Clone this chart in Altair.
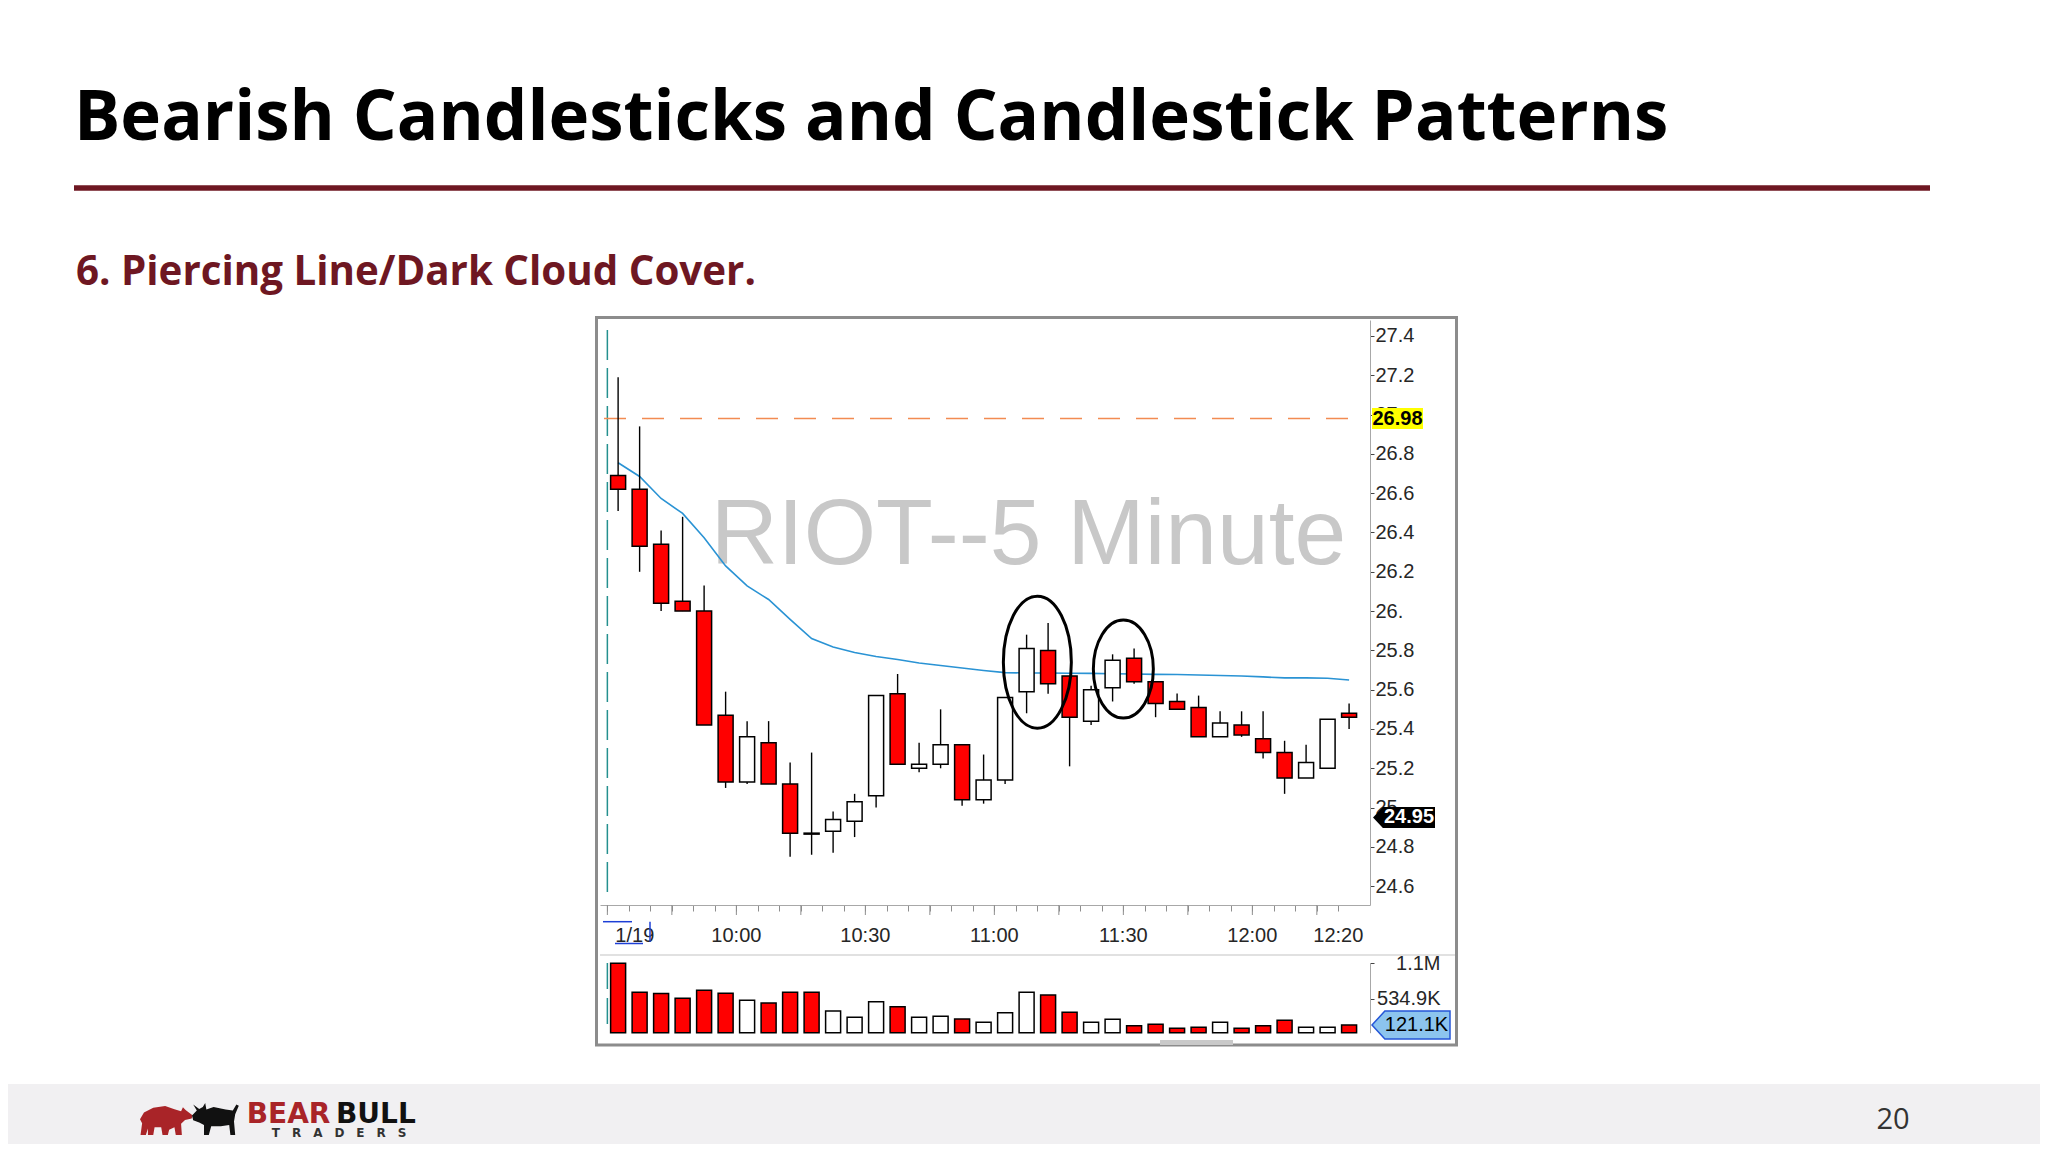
import altair as alt
import pandas as pd

# ---------------- data ----------------
bar_times = ["9:30", "9:35", "9:40", "9:45", "9:50", "9:55", "10:00", "10:05", "10:10", "10:15",
             "10:20", "10:25", "10:30", "10:35", "10:40", "10:45", "10:50", "10:55", "11:00", "11:05",
             "11:10", "11:15", "11:20", "11:25", "11:30", "11:35", "11:40", "11:45", "11:50", "11:55",
             "12:00", "12:05", "12:10", "12:15", "12:20"]
opens = [26.69, 26.62, 26.34, 26.05, 26.00, 25.47, 25.13, 25.33, 25.12, 24.87,
         24.88, 24.93, 25.06, 25.58, 25.20, 25.22, 25.32, 25.04, 25.14, 25.59,
         25.80, 25.67, 25.44, 25.61, 25.76, 25.64, 25.54, 25.51, 25.36, 25.42,
         25.35, 25.28, 25.15, 25.20, 25.48]
highs = [27.19, 26.94, 26.41, 26.48, 26.13, 25.59, 25.44, 25.44, 25.23, 25.28,
         24.98, 25.07, 25.57, 25.68, 25.33, 25.50, 25.32, 25.27, 25.56, 25.88,
         25.94, 25.67, 25.62, 25.78, 25.81, 25.64, 25.58, 25.57, 25.49, 25.49,
         25.49, 25.34, 25.32, 25.45, 25.53]
lows = [26.51, 26.20, 26.00, 26.00, 25.42, 25.10, 25.12, 25.12, 24.75, 24.76,
        24.77, 24.85, 25.00, 25.22, 25.18, 25.20, 25.01, 25.02, 25.12, 25.48,
        25.58, 25.21, 25.42, 25.54, 25.63, 25.46, 25.50, 25.36, 25.36, 25.36,
        25.25, 25.07, 25.15, 25.20, 25.40]
closes = [26.62, 26.33, 26.04, 26.00, 25.42, 25.13, 25.36, 25.12, 24.87, 24.865,
          24.94, 25.03, 25.57, 25.22, 25.22, 25.32, 25.04, 25.14, 25.56, 25.81,
          25.63, 25.46, 25.60, 25.75, 25.64, 25.53, 25.50, 25.36, 25.43, 25.37,
          25.28, 25.15, 25.23, 25.45, 25.46]
volumes = [1100000, 640000, 620000, 545000, 672000, 624000, 513000, 471000, 640000, 640000,
           344000, 243000, 492000, 413000, 243000, 259000, 217000, 164000, 317000, 640000,
           598000, 323000, 164000, 212000, 111000, 132000, 69000, 85000, 164000, 69000,
           111000, 196000, 85000, 85000, 121100]
ma_values = [26.755, 26.685, 26.573, 26.497, 26.373, 26.230, 26.128, 26.059, 25.958, 25.860,
             25.817, 25.789, 25.769, 25.754, 25.736, 25.723, 25.710, 25.698, 25.687, 25.685,
             25.685, 25.684, 25.683, 25.681, 25.680, 25.678, 25.677, 25.675, 25.672, 25.670,
             25.665, 25.660, 25.660, 25.658, 25.649]

price_ticks = [24.6, 24.8, 25.0, 25.2, 25.4, 25.6, 25.8, 26.0, 26.2, 26.4, 26.6, 26.8, 27.0, 27.2, 27.4]
price_tick_labels = ["24.6", "24.8", "25", "25.2", "25.4", "25.6", "25.8", "26.", "26.2", "26.4",
                     "26.6", "26.8", "27.", "27.2", "27.4"]
time_labels = ["10:00", "10:30", "11:00", "11:30", "12:00", "12:20"]
major_tick_times = ["9:30", "9:45", "10:00", "10:15", "10:30", "10:45", "11:00", "11:15",
                    "11:30", "11:45", "12:00", "12:15"]
date_label = "1/19"
session_start = "9:30"
vol_ticks = [534900, 1100000]
vol_tick_labels = ["534.9K", "1.1M"]
resistance_level = [26.98]
marker_price = [24.95]
last_volume = [121100]
last_volume_label = ["121.1K"]
ellipse_times = ["11:10", "11:30"]
ellipse_prices = [25.74, 25.705]

title_text = "Bearish Candlesticks and Candlestick Patterns"
subtitle_text = "6. Piercing Line/Dark Cloud Cover."
watermark_text = "RIOT--5 Minute"
page_number = "20"


def to_min(s):
    h, m = s.split(":")
    return int(h) * 60 + int(m)


df = pd.DataFrame({
    "mid": [to_min(t) + 2.5 for t in bar_times],
    "open": opens, "high": highs, "low": lows, "close": closes,
    "vol": volumes, "ma": ma_values,
})
df["dir"] = ["down" if c < o else "up" for o, c in zip(opens, closes)]

# ---------------- scales / axes ----------------
W, H = 770, 585
xscale = alt.Scale(domain=[569.45, 746.2], nice=False, zero=False)
yscale = alt.Scale(domain=[24.5043, 27.4814], nice=False, zero=False)
vscale = alt.Scale(domain=[0, 1100000], range=[712.7, 643.3], nice=False, zero=True)
cscale = alt.Scale(domain=["down", "up"], range=["#ff0000", "#ffffff"])

FONT = "Liberation Sans"
AXIS_TEXT = "#262626"


def label_expr(values, labels):
    expr = "''"
    for v, l in zip(reversed(values), reversed(labels)):
        expr = f"abs(datum.value - {v}) < 0.001 ? '{l}' : ({expr})"
    return expr


xaxis = alt.Axis(orient="bottom", values=[to_min(t) for t in bar_times], labels=False,
                 tickSize=6, tickColor="#8e8e8e", domainColor="#a8a8a8", grid=False,
                 tickWidth=1, domainWidth=1)
yaxis = alt.Axis(orient="right", values=price_ticks, labelExpr=label_expr(price_ticks, price_tick_labels),
                 tickSize=4, labelPadding=1, labelFont=FONT, labelFontSize=20, labelColor=AXIS_TEXT,
                 domainColor="#a8a8a8", tickColor="#444444", grid=False, labelOverlap=False,
                 labelFlush=False, labelBaseline="middle")
vaxis = alt.Axis(orient="right", values=vol_ticks, labelExpr=label_expr(vol_ticks, vol_tick_labels),
                 tickSize=4, labelPadding=66, labelAlign="right", labelFont=FONT, labelFontSize=20,
                 labelColor=AXIS_TEXT, domainColor="#a8a8a8", tickColor="#444444", grid=False,
                 labelOverlap=False, labelFlush=False, labelBaseline="middle")


def X(field):
    return alt.X(f"{field}:Q", scale=xscale, axis=xaxis, title=None)


def PY(field):
    return alt.Y(f"{field}:Q", scale=yscale, axis=yaxis, title=None)


def VY(field):
    return alt.Y(f"{field}:Q", scale=vscale, axis=vaxis, title=None)


one = pd.DataFrame({"k": [0]})


def vrect(x, x2, y, y2, **kw):
    return alt.Chart(one).mark_rect(**kw).encode(
        x=alt.value(x), x2=alt.value(x2), y=alt.value(y), y2=alt.value(y2))


def vtext(text, x, y, **kw):
    return alt.Chart(pd.DataFrame({"s": [text]})).mark_text(**kw).encode(
        text="s:N", x=alt.value(x), y=alt.value(y))


def hrule(x, x2, y, **kw):
    return alt.Chart(one).mark_rule(**kw).encode(x=alt.value(x), x2=alt.value(x2), y=alt.value(y))


def vrule(x, y, y2, **kw):
    return alt.Chart(one).mark_rule(**kw).encode(x=alt.value(x), y=alt.value(y), y2=alt.value(y2))


# ---------------- slide decoration ----------------
footer = vrect(-592, 1440, 764, 824, fill="#f1f0f2")
title = vtext(title_text, -526, -180, font="Open Sans", fontWeight="bold", fontSize=69,
              color="#000000", align="left", baseline="alphabetic")
red_rule = hrule(-526, 1330, -132, color="#6e1722", strokeWidth=5.5)
subtitle = vtext(subtitle_text, -524, -35, font="Open Sans", fontWeight="bold", fontSize=40.3,
                 color="#6e1722", align="left", baseline="alphabetic")
frame = vrect(-3.5, 856.5, -2.5, 725, fill="#ffffff", fillOpacity=0, stroke="#8c8c8c", strokeWidth=3)
watermark = vtext(watermark_text, 428.5, 244.3, font=FONT, fontSize=93, color="#c8c8c8",
                  align="center", baseline="alphabetic")
separator = hrule(0, 855, 635, color="#c4c4c4", strokeWidth=1.2)
scrollbar = vrect(560, 633, 720, 725, fill="#c9c9c9")

start_df = pd.DataFrame({"t": [to_min(session_start)]})
teal1 = alt.Chart(start_df).mark_rule(color="#24908f", strokeWidth=1.5, strokeDash=[30, 8]).encode(
    x=X("t"), y=alt.value(10), y2=alt.value(575))
teal2 = alt.Chart(start_df).mark_rule(color="#24908f", strokeWidth=1.5, strokeDash=[26, 9]).encode(
    x=X("t"), y=alt.value(643), y2=alt.value(713))

# ---------------- price panel ----------------
orange = alt.Chart(pd.DataFrame({"p": resistance_level})).mark_rule(
    color="#f28b52", strokeWidth=1.5, strokeDash=[22, 16]).encode(
    y=PY("p"), x=alt.value(4), x2=alt.value(762))
ma_line = alt.Chart(df).mark_line(color="#2a93d4", strokeWidth=1.6).encode(x=X("mid"), y=PY("ma"))
wicks = alt.Chart(df).mark_rule(color="#000000", strokeWidth=1.4).encode(
    x=X("mid"), y=PY("low"), y2="high:Q")
bodies = alt.Chart(df).mark_bar(size=15, stroke="#000000", strokeWidth=1.5, orient="vertical").encode(
    x=X("mid"), y=PY("open"), y2="close:Q",
    color=alt.Color("dir:N", scale=cscale, legend=None))


def ellipse_path(a):
    return f"M {-a} 0 A {a} 1 0 1 1 {a} 0 A {a} 1 0 1 1 {-a} 0 Z"


ell_df = pd.DataFrame({"t": [to_min(t) for t in ellipse_times], "p": ellipse_prices})
ell1 = alt.Chart(ell_df.iloc[[0]]).mark_point(
    shape=ellipse_path(0.515), size=132 * 132, filled=False, stroke="#000000", strokeWidth=3,
    opacity=1).encode(x=X("t"), y=PY("p"))
ell2 = alt.Chart(ell_df.iloc[[1]]).mark_point(
    shape=ellipse_path(0.612), size=98 * 98, filled=False, stroke="#000000", strokeWidth=3,
    opacity=1).encode(x=X("t"), y=PY("p"))

res_df = pd.DataFrame({"p": resistance_level, "s": [f"{v:.2f}" for v in resistance_level]})
ybox = alt.Chart(res_df).mark_point(
    shape="M -1 -0.41 L 1 -0.41 L 1 0.41 L -1 0.41 Z", size=51 * 51, filled=True,
    fill="#ffff00", strokeWidth=0, opacity=1).encode(x=alt.value(797.5), y=PY("p"))
ytext = alt.Chart(res_df).mark_text(font=FONT, fontSize=20, fontWeight="bold", color="#000000",
                                    align="center", baseline="middle").encode(
    x=alt.value(797.5), y=PY("p"), text="s:N")

mk_df = pd.DataFrame({"p": marker_price, "s": [f"{v:.2f}" for v in marker_price]})
bbox = alt.Chart(mk_df).mark_point(
    shape="M -1 0 L -0.68 -0.34 L 1 -0.34 L 1 0.34 L -0.68 0.34 Z", size=62 * 62, filled=True,
    fill="#000000", strokeWidth=0, opacity=1).encode(x=alt.value(804), y=PY("p"))
btext = alt.Chart(mk_df).mark_text(font=FONT, fontSize=20, fontWeight="bold", color="#ffffff",
                                   align="center", baseline="middle").encode(
    x=alt.value(809), y=PY("p"), text="s:N")

price = alt.layer(orange, ma_line, wicks, bodies, ell1, ell2, ybox, ytext, bbox, btext)

# ---------------- time axis ----------------
major_df = pd.DataFrame({"t": [to_min(t) for t in major_tick_times]})
major_ticks = alt.Chart(major_df).mark_rule(color="#8e8e8e", strokeWidth=1).encode(
    x=X("t"), y=alt.value(585), y2=alt.value(595))
tl_df = pd.DataFrame({"t": [to_min(t) for t in time_labels], "s": time_labels})
tlabels = alt.Chart(tl_df).mark_text(font=FONT, fontSize=20, color=AXIS_TEXT, align="center",
                                     baseline="alphabetic").encode(
    x=X("t"), y=alt.value(621.7), text="s:N")
dl_df = pd.DataFrame({"t": [to_min(session_start)], "s": [date_label]})
dlabel = alt.Chart(dl_df).mark_text(font=FONT, fontSize=20, color=AXIS_TEXT, align="left",
                                    baseline="alphabetic", dx=8).encode(
    x=X("t"), y=alt.value(621.7), text="s:N")
blue1 = hrule(3, 32, 601.7, color="#1d3fd6", strokeWidth=1.5)
blue2 = vrule(50, 601.7, 621.7, color="#1d3fd6", strokeWidth=1.5)
blue3 = hrule(15, 43, 623.5, color="#1d3fd6", strokeWidth=1.5)

# ---------------- volume panel ----------------
vbars = alt.Chart(df).mark_bar(size=15, stroke="#000000", strokeWidth=1.5, orient="vertical").encode(
    x=X("mid"), y=VY("vol"), color=alt.Color("dir:N", scale=cscale, legend=None))
lv_df = pd.DataFrame({"v": last_volume, "s": last_volume_label})
vbox = alt.Chart(lv_df).mark_point(
    shape="M -1 0 L -0.67 -0.36 L 1 -0.36 L 1 0.36 L -0.67 0.36 Z", size=78 * 78, filled=True,
    fill="#8cc4ee", stroke="#2456d8", strokeWidth=1.5, opacity=1).encode(x=alt.value(811), y=VY("v"))
vlabel = alt.Chart(lv_df).mark_text(font=FONT, fontSize=20, color="#000000", align="center",
                                    baseline="middle").encode(x=alt.value(816.5), y=VY("v"), text="s:N")
volume = alt.layer(vbars, vbox, vlabel)

# ---------------- footer logo ----------------
bear_path = ("M -0.98 0.55 L -0.92 0.1 L -1 -0.05 L -0.85 -0.3 L -0.5 -0.48 L -0.05 -0.55 "
             "L 0.3 -0.42 L 0.55 -0.35 L 0.62 -0.5 L 0.72 -0.4 L 0.98 -0.2 L 0.95 -0.08 L 0.7 -0.02 "
             "L 0.55 0.12 L 0.58 0.55 L 0.35 0.55 L 0.3 0.25 L 0.1 0.35 L 0.05 0.55 L -0.15 0.55 "
             "L -0.2 0.25 L -0.45 0.25 L -0.5 0.55 L -0.7 0.55 L -0.7 0.3 L -0.78 0.55 Z")
bull_path = ("M -0.95 0.05 L -1 -0.15 L -0.8 -0.35 L -0.95 -0.6 L -0.7 -0.42 L -0.55 -0.5 "
             "L -0.45 -0.67 L -0.4 -0.4 L -0.1 -0.5 L 0.4 -0.4 L 0.7 -0.35 L 0.85 -0.6 L 0.95 -0.55 "
             "L 0.8 -0.2 L 0.75 0.1 L 0.8 0.67 L 0.6 0.67 L 0.55 0.25 L 0.2 0.3 L -0.2 0.3 "
             "L -0.3 0.67 L -0.5 0.67 L -0.5 0.25 L -0.7 0.15 Z")
bear_icon = alt.Chart(one).mark_point(shape=bear_path, size=53 * 53, filled=True, fill="#a92428",
                                      strokeWidth=0, opacity=1).encode(x=alt.value(-433.5), y=alt.value(800.5))
bull_icon = alt.Chart(one).mark_point(shape=bull_path, size=48 * 48, filled=True, fill="#111111",
                                      strokeWidth=0, opacity=1).encode(x=alt.value(-384), y=alt.value(799))
logo_bear = vtext("BEAR", -353.3, 802.5, font="DejaVu Sans", fontWeight="bold", fontSize=28,
                  color="#a92428", align="left", baseline="alphabetic")
logo_bull = vtext("BULL", -264, 802.5, font="DejaVu Sans", fontWeight="bold", fontSize=28,
                  color="#111111", align="left", baseline="alphabetic")
logo_traders = vtext("T\u2003R\u2003A\u2003D\u2003E\u2003R\u2003S", -328.3, 817, font="DejaVu Sans",
                     fontWeight="bold", fontSize=12, color="#333333", align="left", baseline="alphabetic")
page_no = vtext(page_number, 1293, 809.3, font="Open Sans", fontSize=29, color="#333333",
                align="center", baseline="alphabetic")

chart = alt.layer(
    footer, title, red_rule, subtitle, frame, watermark, separator, scrollbar, teal1, teal2,
    price, major_ticks, tlabels, dlabel, blue1, blue2, blue3, volume,
    bear_icon, bull_icon, logo_bear, logo_bull, logo_traders, page_no,
).resolve_scale(y="independent").properties(
    width=W, height=H,
    autosize=alt.AutoSizeParams(type="none"),
    padding={"left": 592, "top": 312, "right": 670, "bottom": 239},
    background="#ffffff",
).configure_view(stroke=None)

chart.save("out.html", embed_options={"renderer": "svg", "actions": False})
